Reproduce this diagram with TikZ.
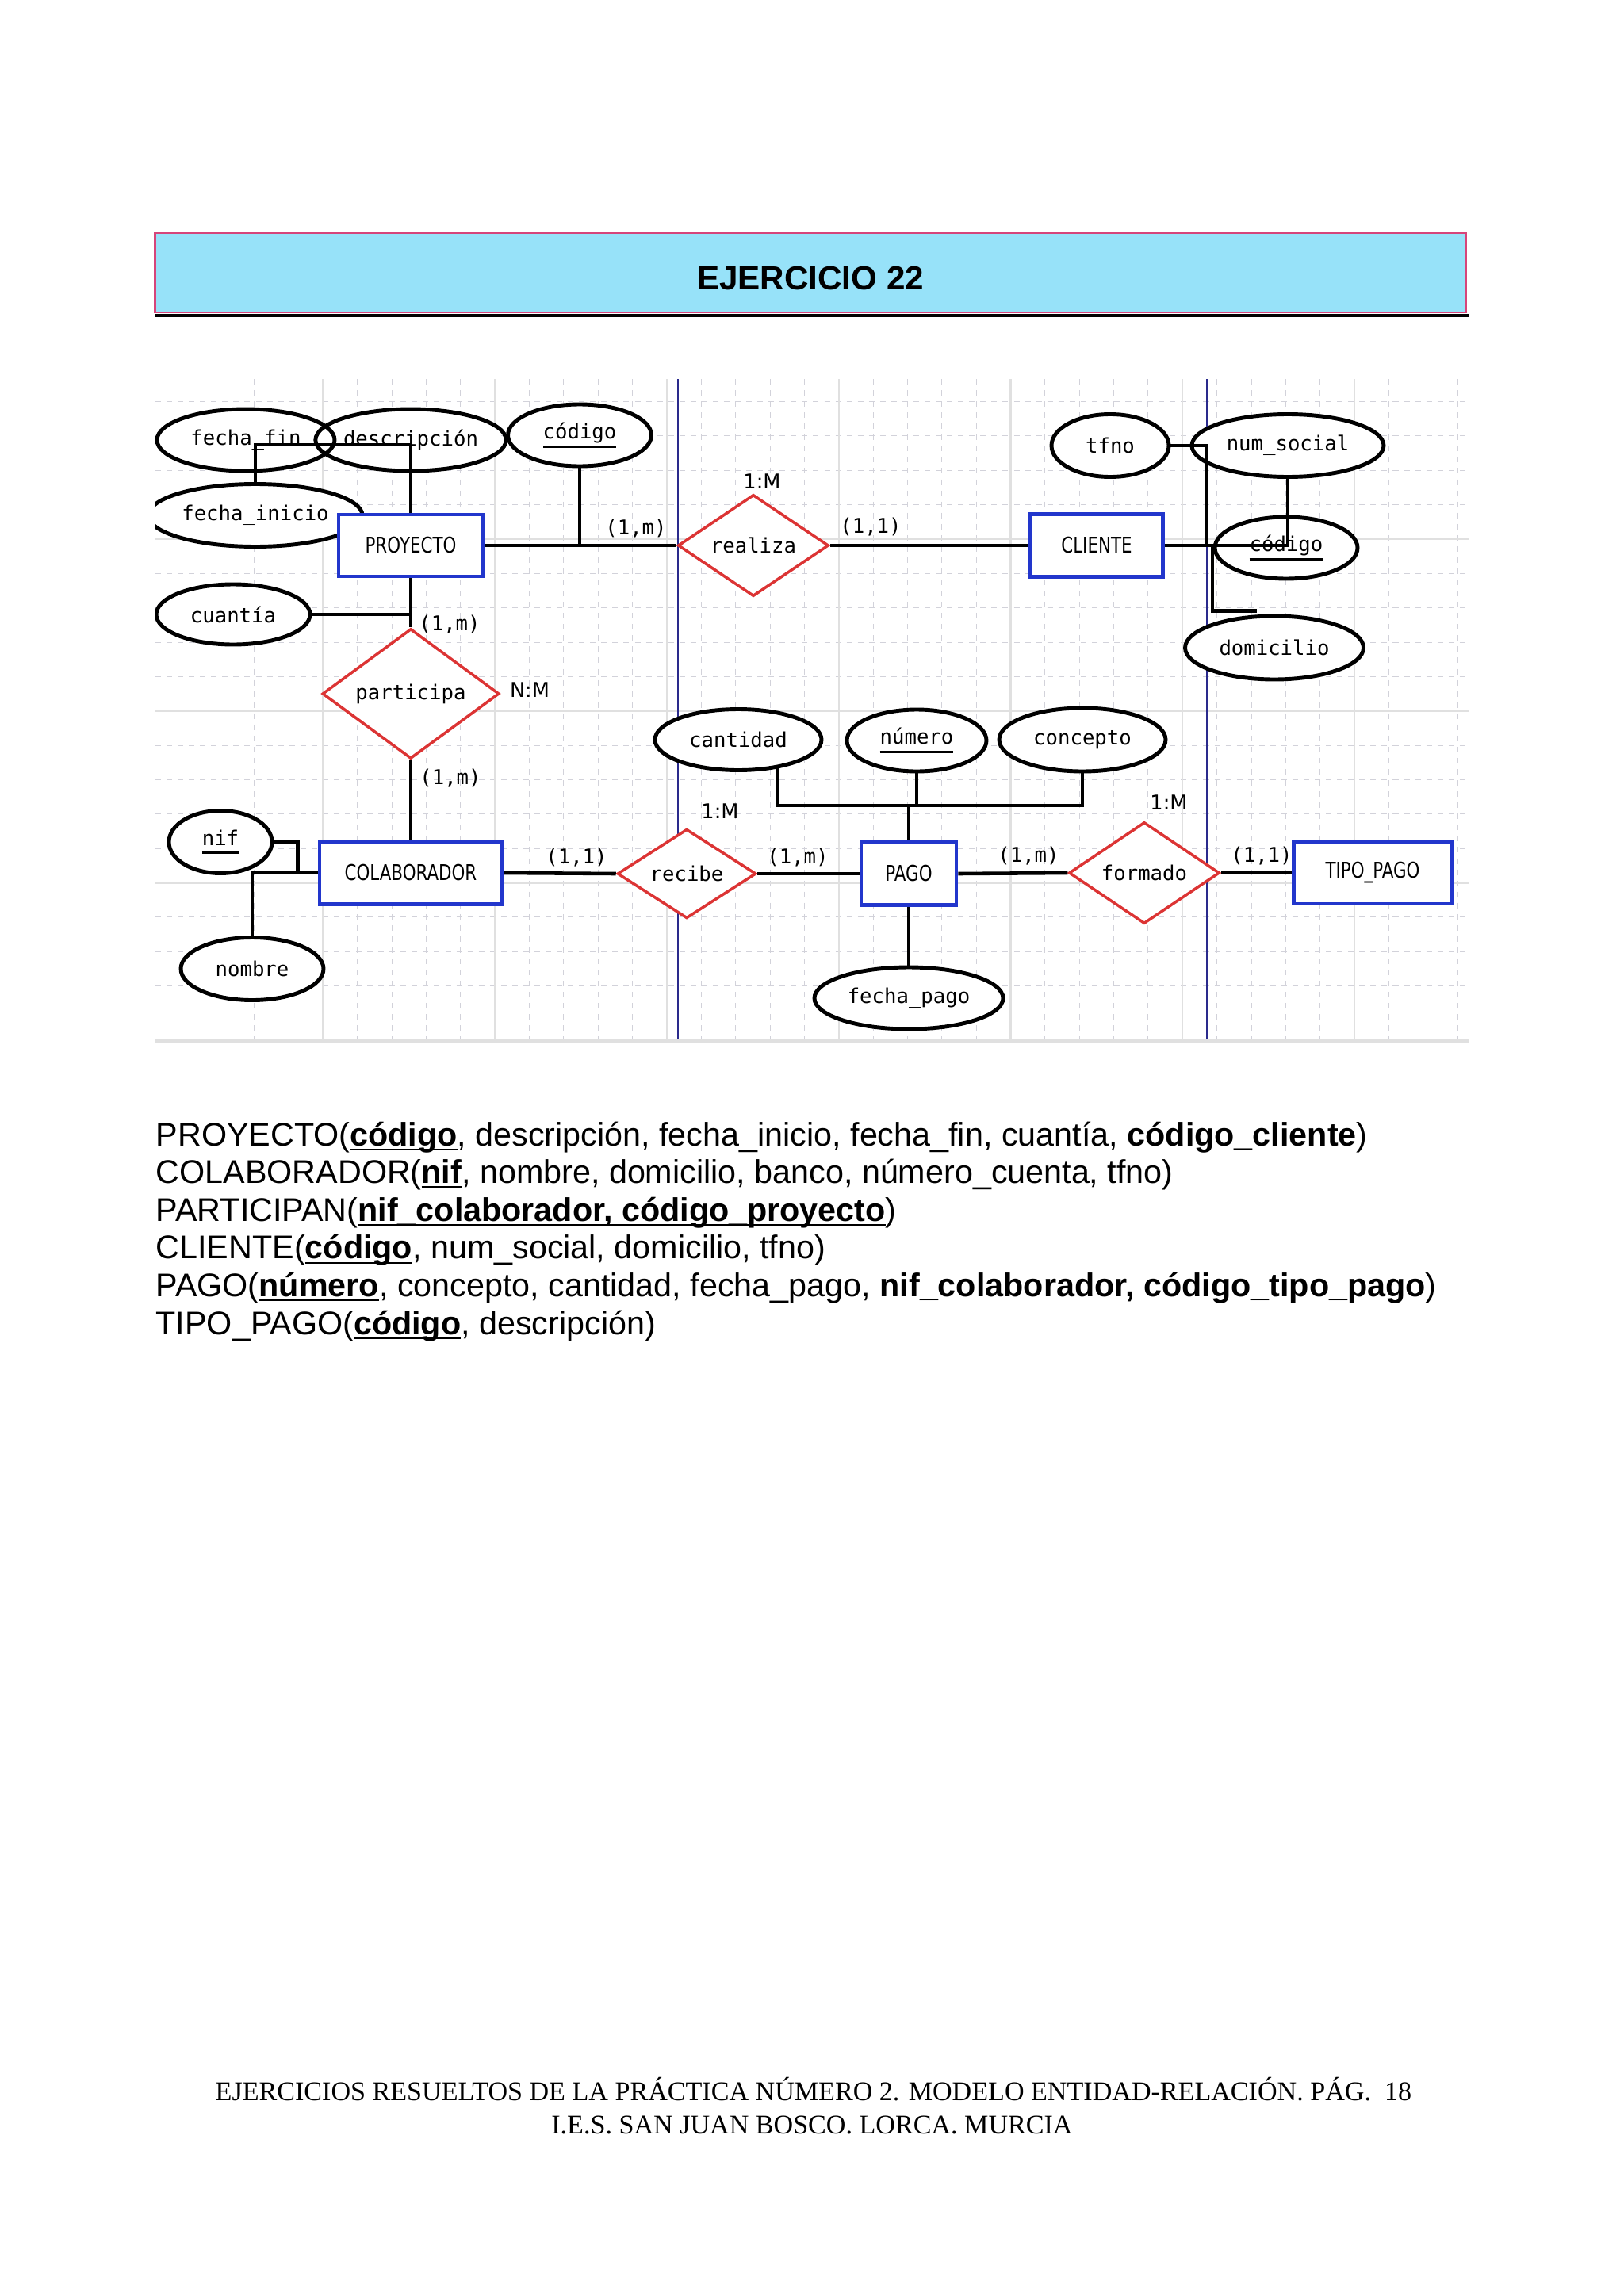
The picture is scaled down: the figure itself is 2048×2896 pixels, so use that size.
\documentclass[tikz,border=0pt]{standalone}
\usepackage{fontspec}
\usetikzlibrary{shapes.geometric}
\setmainfont{Liberation Sans}
\newfontfamily\footfont{Liberation Serif}
\newfontfamily\erfont{DejaVu Sans Mono}
\newfontfamily\entfont[FakeStretch=0.78]{DejaVu Sans}
\newfontfamily\ratfont{DejaVu Sans}
\definecolor{entblue}{HTML}{2236CC}
\definecolor{relred}{HTML}{DC3434}
\definecolor{headcyan}{HTML}{97E2F9}
\definecolor{headpink}{HTML}{D6457A}
\definecolor{sepblue}{HTML}{2A2A8C}
\definecolor{gridgray}{HTML}{D2D2DA}
\newcommand{\keyname}[1]{\setbox0\hbox{#1}\makebox[0pt][l]{\rule[-3.2pt]{\wd0}{0.9pt}}\box0}
\newcommand{\schkey}[1]{\setbox0\hbox{#1}\makebox[0pt][l]{\rule[-1.7pt]{\wd0}{0.6pt}}\box0}

\tikzset{entity/.style = {shape=rectangle,draw=entblue,line width=1.3pt,fill=white,inner sep=0pt,font=\entfont\fontsize{7.8}{9}\selectfont}}
\tikzset{attrib/.style = {shape=ellipse,draw,line width=1.4pt,fill=white,inner sep=0pt,minimum height=7.8mm,font=\erfont\fontsize{7.3}{9}\selectfont}}
\tikzset{relation/.style = {shape=diamond,draw=relred,line width=1pt,fill=white,inner sep=0pt,font=\erfont\fontsize{7.3}{9}\selectfont}}
\tikzset{link/.style = {line width=1.3pt}}
\tikzset{card/.style = {inner sep=0pt,font=\erfont\fontsize{7.3}{9}\selectfont}}
\tikzset{ratio/.style = {inner sep=0pt,font=\ratfont\fontsize{7.3}{9}\selectfont}}
\tikzset{schema/.style = {anchor=base west,inner sep=0pt,font=\fontsize{11.75}{14}\selectfont}}
\tikzset{minorgrid/.style = {draw=gridgray,line width=0.3pt,dash pattern=on 2pt off 2pt}}
\tikzset{majorgrid/.style = {draw=black!12,line width=0.6pt}}

\begin{document}
\begin{tikzpicture}[x=0.1mm,y=-0.1mm]
\useasboundingbox[fill=white] (0,0) rectangle (2048,2896);

\node[draw=headpink,line width=0.85pt,fill=headcyan,minimum width=165.3mm,minimum height=10mm,inner sep=0pt] (HEAD) at (1021.5,344) {};
\node[inner sep=0pt,font=\fontsize{12}{14}\selectfont\bfseries] (HEADTITLE) at (1022,351) {EJERCICIO 22};
\draw[line width=0.9pt] (196,398) -- (1852,398);

\begin{scope}
\clip (196,478) rectangle (1852,1313);
\foreach \i in {-35,...,4} \draw[minorgrid] (1708+43.35*\i,478) -- (1708+43.35*\i,1313);
\foreach \j in {-5,...,15} \draw[minorgrid] (196,680+43.35*\j) -- (1852,680+43.35*\j);
\foreach \k in {-7,...,0} \draw[majorgrid] (1708+216.75*\k,478) -- (1708+216.75*\k,1313);
\foreach \k in {-1,...,3} \draw[majorgrid] (196,680+216.75*\k) -- (1852,680+216.75*\k);
\draw[sepblue,line width=0.5pt] (855,478) -- (855,1313);
\draw[sepblue,line width=0.5pt] (1522,478) -- (1522,1313);

\fill[white] (310,555) ellipse [x radius=112,y radius=38];
\fill[white] (518,555) ellipse [x radius=115,y radius=38];
\node[attrib,fill=none,minimum width=22.4mm] (FFIN) at (310,555) {fecha\_fin};
\node[attrib,fill=none,minimum width=23mm] (DESCRIPCION) at (518,555) {descripción};
\node[attrib,minimum width=18.1mm] (COD1) at (731,549) {\keyname{código}};
\node[attrib,minimum width=27mm,minimum height=7.9mm] (FINICIO) at (322,650) {fecha\_inicio};
\node[attrib,minimum width=19.4mm,minimum height=7.6mm] (CUANTIA) at (294,775) {cuantía};
\node[attrib,minimum width=14.8mm,minimum height=7.9mm] (TFNO) at (1400,562) {tfno};
\node[attrib,minimum width=24.2mm,minimum height=7.9mm] (NUMSOCIAL) at (1624,562) {num\_social};
\node[attrib,minimum width=18mm] (COD2) at (1622,691) {\keyname{código}};
\node[attrib,minimum width=22.5mm,minimum height=8mm] (DOMICILIO) at (1607,817) {domicilio};
\node[attrib,minimum width=13mm,minimum height=7.9mm] (NIF) at (278,1062) {\keyname{nif}};
\node[attrib,minimum width=18mm,minimum height=7.9mm] (NOMBRE) at (318,1222) {nombre};
\node[attrib,minimum width=21mm,minimum height=7.7mm] (CANTIDAD) at (931,933) {cantidad};
\node[attrib,minimum width=17.6mm] (NUMERO) at (1156,934) {\keyname{número}};
\node[attrib,minimum width=21mm,minimum height=8mm] (CONCEPTO) at (1365,933) {concepto};
\node[attrib,minimum width=23.8mm] (FECHAPAGO) at (1146,1259) {fecha\_pago};

\node[entity,minimum width=18.2mm,minimum height=7.8mm] (PROYECTO) at (518,688) {PROYECTO};
\node[entity,minimum width=16.7mm,minimum height=7.9mm] (CLIENTE) at (1383,688) {CLIENTE};
\node[entity,minimum width=23mm,minimum height=7.9mm] (COLABORADOR) at (518,1101) {COLABORADOR};
\node[entity,minimum width=12mm,minimum height=7.9mm] (PAGO) at (1146,1102) {PAGO};
\node[entity,minimum width=19.9mm,minimum height=7.8mm] (TIPOPAGO) at (1731,1101) {TIPO\_PAGO};

\node[relation,minimum width=19mm,minimum height=11.9mm] (realiza) at (950,688) {realiza};
\node[relation,minimum width=22.3mm,minimum height=13.5mm] (participa) at (518,875) {participa};
\node[relation,minimum width=17.5mm,minimum height=10.9mm] (recibe) at (866,1102) {recibe};
\node[relation,minimum width=19mm,minimum height=11.5mm] (formado) at (1443,1101) {formado};

\draw[link] (FINICIO.north) -- ++(0,-47) -| (PROYECTO.north);
\draw[link] (COD1.south) -- (COD1.south |- PROYECTO.east);
\draw[link] (PROYECTO.east) -- (realiza.west);
\draw[link] (realiza.east) -- (CLIENTE.west);
\draw[link] (PROYECTO.south) -- (participa.north);
\draw[link] (CUANTIA.east) -- (CUANTIA.east -| PROYECTO.south);
\draw[link] (participa.south) -- (COLABORADOR.north);
\draw[link] (NIF.east) -- ++(30,0) |- (COLABORADOR.west);
\draw[link] (NOMBRE.north) |- (COLABORADOR.west);
\draw[link] (COLABORADOR.east) -- (recibe.west);
\draw[link] (recibe.east) -- (PAGO.west);
\draw[link] (PAGO.east) -- (formado.west);
\draw[link] (formado.east) -- (TIPOPAGO.west);
\draw[link] (PAGO.south) -- (FECHAPAGO.north);
\coordinate (PJ) at (1146,1016);
\draw[link] (CANTIDAD.-36) |- (CONCEPTO.south |- PJ) -- (CONCEPTO.south);
\draw[link] (NUMERO.south) -- (NUMERO.south |- PJ);
\draw[link] (PAGO.north) -- (PJ);
\draw[link] (CLIENTE.east) -| (NUMSOCIAL.south);
\draw[link] (TFNO.east) -- ++(45,0) |- (CLIENTE.east);
\draw[link] ([xshift=6mm]CLIENTE.east) |- ([shift={(-2.2mm,0.4mm)}]DOMICILIO.north);

\node[card] (C1) at (802,667) {(1,m)};
\node[card] (C2) at (1098,665) {(1,1)};
\node[card] (C3) at (567,788) {(1,m)};
\node[card] (C4) at (568,982) {(1,m)};
\node[card] (C5) at (727,1082) {(1,1)};
\node[card] (C6) at (1006,1082) {(1,m)};
\node[card] (C7) at (1297,1080) {(1,m)};
\node[card] (C8) at (1591,1080) {(1,1)};
\node[ratio] (R1) at (961,607) {1:M};
\node[ratio] (R2) at (668,870) {N:M};
\node[ratio] (R3) at (908,1023) {1:M};
\node[ratio] (R4) at (1474,1012) {1:M};
\end{scope}
\draw[majorgrid,line width=1pt] (196,1313) -- (1852,1313);

\node[schema] (TPROYECTO) at (196,1445) {PROYECTO(\textbf{\schkey{código}}, descripción, fecha\_inicio, fecha\_fin, cuantía, \textbf{código\_cliente})};
\node[schema] (TCOLABORADOR) at (196,1492.6) {COLABORADOR(\textbf{\schkey{nif}}, nombre, domicilio, banco, número\_cuenta, tfno)};
\node[schema] (TPARTICIPAN) at (196,1540.2) {PARTICIPAN(\textbf{\schkey{nif\_colaborador, código\_proyecto}})};
\node[schema] (TCLIENTE) at (196,1587.8) {CLIENTE(\textbf{\schkey{código}}, num\_social, domicilio, tfno)};
\node[schema] (TPAGO) at (196,1635.4) {PAGO(\textbf{\schkey{número}}, concepto, cantidad, fecha\_pago, \textbf{nif\_colaborador, código\_tipo\_pago})};
\node[schema] (TTIPOPAGO) at (196,1683) {TIPO\_PAGO(\textbf{\schkey{código}}, descripción)};

\node[anchor=base,inner sep=0pt,font=\footfont\fontsize{9.7}{11}\selectfont] (FOOT1) at (1026,2649) {EJERCICIOS RESUELTOS DE LA PRÁCTICA NÚMERO 2. MODELO ENTIDAD-RELACIÓN. PÁG.\ \ 18};
\node[anchor=base,inner sep=0pt,font=\footfont\fontsize{9.7}{11}\selectfont] (FOOT2) at (1024,2691) {I.E.S. SAN JUAN BOSCO. LORCA. MURCIA};
\end{tikzpicture}
\end{document}
